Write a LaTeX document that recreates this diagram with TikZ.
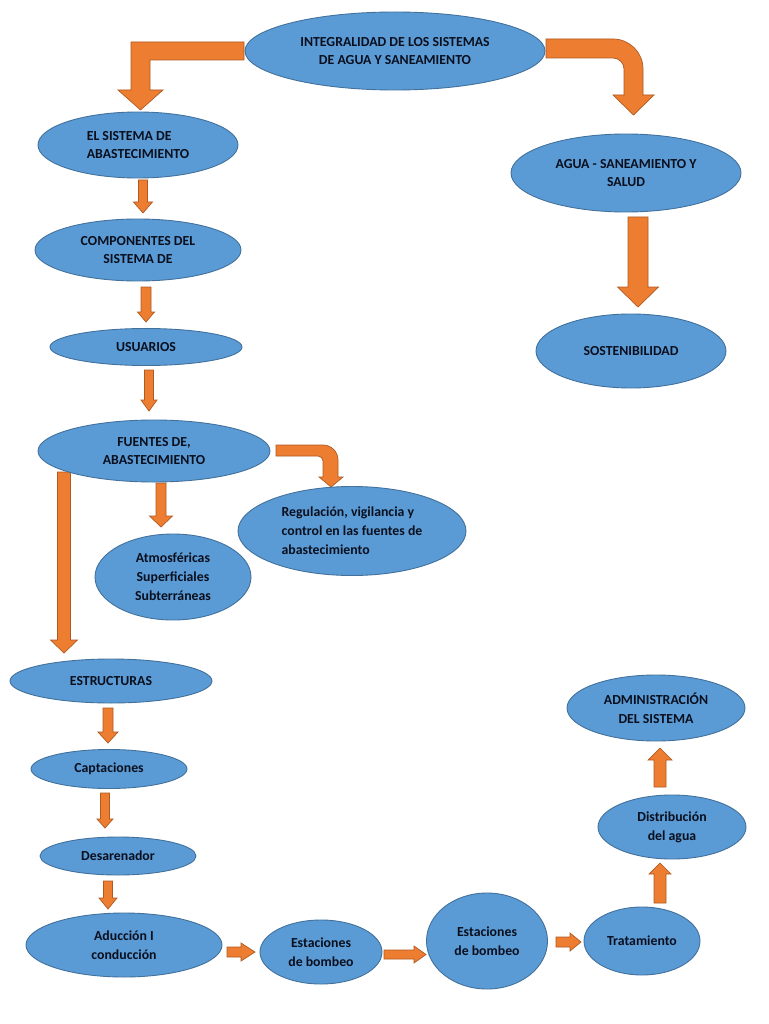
\documentclass[tikz,border=0pt]{standalone}
\usepackage{fontspec}
\setmainfont{Carlito}
\usetikzlibrary{shapes.geometric,calc}
\definecolor{ebl}{HTML}{5B9BD5}
\definecolor{ebd}{HTML}{41719C}
\definecolor{aor}{HTML}{ED7D31}
\definecolor{aod}{HTML}{AE5A21}
\definecolor{txt}{HTML}{0A0F1E}
\tikzset{
  oval/.style={ellipse, draw=ebd, fill=ebl, line width=0.9pt, inner sep=0pt,
    align=center, text=txt, font=\bfseries\fontsize{13.8}{18.8}\selectfont},
  barrow/.style={fill=aor, draw=aod, line width=0.7pt, line join=miter},
}
% start, tip, half shaft, half head, head length
\newcommand\blockarrow[5]{%
  \coordinate (ba-h) at ($(#2)!#5!(#1)$);
  \path[barrow] ($(#1)!#3!90:(#2)$) -- ($(ba-h)!#3!90:(#2)$) -- ($(ba-h)!#4!90:(#2)$)
    -- (#2) -- ($(ba-h)!#4!-90:(#2)$) -- ($(ba-h)!#3!-90:(#2)$) -- ($(#1)!#3!-90:(#2)$) -- cycle;
}
\begin{document}
\begin{tikzpicture}[x=1pt,y=-1pt]
\useasboundingbox (0,0) rectangle (768,1024);
\fill[white] (0,0) rectangle (768,1024);

% bent arrows
\path[barrow] (244,42) -- (131,42) -- (131,90) -- (118,90) -- (140.5,110) -- (163,90) -- (150,90) -- (150,60) -- (244,60) -- cycle;
\path[barrow] (546,39) -- (613,39) arc[start angle=90, end angle=0, radius=30pt] -- (643,95) -- (654,95) -- (633.5,115) -- (613,95) -- (624,95) -- (624,69) arc[start angle=0, end angle=90, radius=11pt] -- (546,58) -- cycle;
\path[barrow] (276,445) -- (323,445) arc[start angle=90, end angle=0, radius=15pt] -- (338,477) -- (343,477) -- (331,487) -- (319,477) -- (323,477) -- (323,461) arc[start angle=0, end angle=90, radius=5pt] -- (276,456) -- cycle;

% straight arrows
\blockarrow{143,180}{143,213}{4.5pt}{9.5pt}{11pt}
\blockarrow{146,287}{146,322}{5pt}{8.5pt}{10pt}
\blockarrow{149,370}{149,411}{4.5pt}{8pt}{11pt}
\blockarrow{161,483}{161,527}{5pt}{11.5pt}{11pt}
\blockarrow{64,472}{64,653}{6.5pt}{13.5pt}{13pt}
\blockarrow{108,708}{108,743}{5pt}{10pt}{11pt}
\blockarrow{105,793}{105,828}{4.5pt}{8pt}{9pt}
\blockarrow{108,881}{108,909}{4.5pt}{9pt}{11pt}
\blockarrow{638,217}{638,307}{10pt}{20.5pt}{20pt}
\blockarrow{660,903}{660,863}{6pt}{11pt}{11pt}
\blockarrow{660,787}{660,748}{6pt}{12pt}{12pt}
\blockarrow{227,952}{255,952}{5pt}{9pt}{14pt}
\blockarrow{384,954.5}{426,954.5}{4.5pt}{8.5pt}{12pt}
\blockarrow{556,942}{581,942}{5pt}{9pt}{11pt}

% ellipses
\node[oval, minimum width=300pt, minimum height=78pt] (integ) at (395,51) {INTEGRALIDAD DE LOS SISTEMAS\\DE AGUA Y SANEAMIENTO};
\node[oval, minimum width=200pt, minimum height=66pt, align=left] (sis) at (138,145) {EL SISTEMA DE\\ABASTECIMIENTO};
\node[oval, minimum width=230pt, minimum height=78pt] (agua) at (626,173) {AGUA - SANEAMIENTO Y\\SALUD};
\node[oval, minimum width=206pt, minimum height=62pt] (comp) at (138,250) {COMPONENTES DEL\\SISTEMA DE};
\node[oval, minimum width=190pt, minimum height=74pt] (sost) at (631,351) {SOSTENIBILIDAD};
\node[oval, minimum width=192pt, minimum height=37pt] (usu) at (146,347) {USUARIOS};
\node[oval, minimum width=232pt, minimum height=62pt] (fue) at (154,451) {FUENTES DE,\\ABASTECIMIENTO};
\node[oval, minimum width=228pt, minimum height=89pt, align=left] (reg) at (352,531) {Regulación, vigilancia y\\control en las fuentes de\\abastecimiento};
\node[oval, minimum width=156pt, minimum height=86pt] (atm) at (173,577) {Atmosféricas\\Superficiales\\Subterráneas};
\node[oval, minimum width=202pt, minimum height=44pt] (estr) at (111,681) {ESTRUCTURAS};
\node[oval, minimum width=156pt, minimum height=39pt] (capt) at (109,769) {Captaciones};
\node[oval, minimum width=156pt, minimum height=38pt] (des) at (118,856) {Desarenador};
\node[oval, minimum width=196pt, minimum height=64pt] (aduc) at (124,945) {Aducción I\\conducción};
\node[oval, minimum width=122pt, minimum height=64pt] (est1) at (321,952) {Estaciones\\de bombeo};
\node[oval, minimum width=121pt, minimum height=96pt] (est2) at (487,941) {Estaciones\\de bombeo};
\node[oval, minimum width=116pt, minimum height=68pt] (trat) at (642,941) {Tratamiento};
\node[oval, minimum width=148pt, minimum height=64pt] (dist) at (672,827) {Distribución\\del agua};
\node[oval, minimum width=178pt, minimum height=66pt] (admin) at (656,708) {ADMINISTRACIÓN\\DEL SISTEMA};
\end{tikzpicture}
\end{document}
